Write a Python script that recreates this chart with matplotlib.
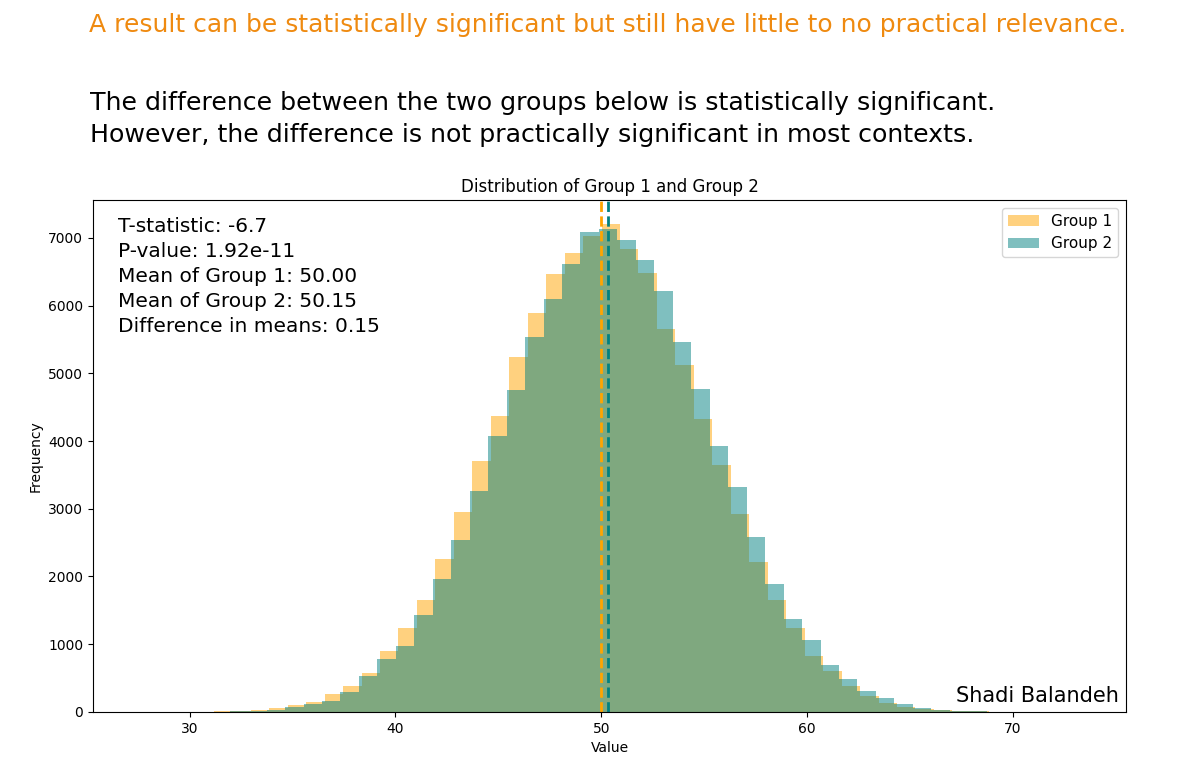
import numpy as np
import matplotlib.pyplot as plt

# histogram counts (50 bins per group)
group1_counts = [1, 1, 3, 6, 9, 15, 27, 55, 105, 140,
                 265, 380, 576, 896, 1241, 1650, 2251, 2954, 3708, 4368,
                 5234, 5884, 6460, 6771, 7031, 7199, 6835, 6475, 5653, 5116,
                 4328, 3644, 2920, 2216, 1660, 1246, 827, 601, 384, 232,
                 133, 74, 40, 22, 14, 8, 4, 2, 1, 1]
group2_counts = [1, 1, 2, 4, 8, 18, 35, 74, 113, 168,
                 296, 532, 778, 975, 1428, 1970, 2546, 3264, 4072, 4752,
                 5530, 6096, 6608, 7090, 7130, 6968, 6672, 6214, 5456, 4771,
                 3920, 3314, 2576, 1886, 1379, 1069, 690, 483, 306, 207,
                 124, 65, 35, 19, 10, 5, 3, 1, 1, 1]
group1_range = (27.59, 72.43)
group2_range = (28.36, 73.20)
mean_lines = [50.0, 50.32]

stats_text = ("T-statistic: -6.7\n"
              "P-value: 1.92e-11\n"
              "Mean of Group 1: 50.00\n"
              "Mean of Group 2: 50.15\n"
              "Difference in means: 0.15")

fig = plt.figure(figsize=(12, 7.83), dpi=100)
ax = fig.add_axes([0.0775, 0.0907, 0.8608, 0.654])

for counts, rng, color, label in [(group1_counts, group1_range, "orange", "Group 1"),
                                  (group2_counts, group2_range, "teal", "Group 2")]:
    edges = np.linspace(rng[0], rng[1], len(counts) + 1)
    centers = (edges[:-1] + edges[1:]) / 2
    ax.hist(centers, bins=edges, weights=counts, color=color, alpha=0.5, label=label)

ax.axvline(mean_lines[0], color="orange", linestyle="dashed", linewidth=2)
ax.axvline(mean_lines[1], color="teal", linestyle="dashed", linewidth=2)

ax.set_title("Distribution of Group 1 and Group 2", fontsize=12)
ax.set_xlabel("Value")
ax.set_ylabel("Frequency")
ax.legend(loc="upper right", fontsize=11)

ax.text(0.024, 0.967, stats_text, transform=ax.transAxes, va="top", ha="left",
        fontsize=14.5, linespacing=1.4)
ax.text(0.993, 0.012, "Shadi Balandeh", transform=ax.transAxes, va="bottom", ha="right",
        fontsize=15)

fig.text(0.506, 0.968, "A result can be statistically significant but still have little to no practical relevance.",
         color="#ef8a10", fontsize=18, ha="center", va="center")
fig.text(0.075, 0.868, "The difference between the two groups below is statistically significant.",
         fontsize=18.2, ha="left", va="center")
fig.text(0.075, 0.827, "However, the difference is not practically significant in most contexts.",
         fontsize=18.2, ha="left", va="center")

fig.savefig("out.png")
